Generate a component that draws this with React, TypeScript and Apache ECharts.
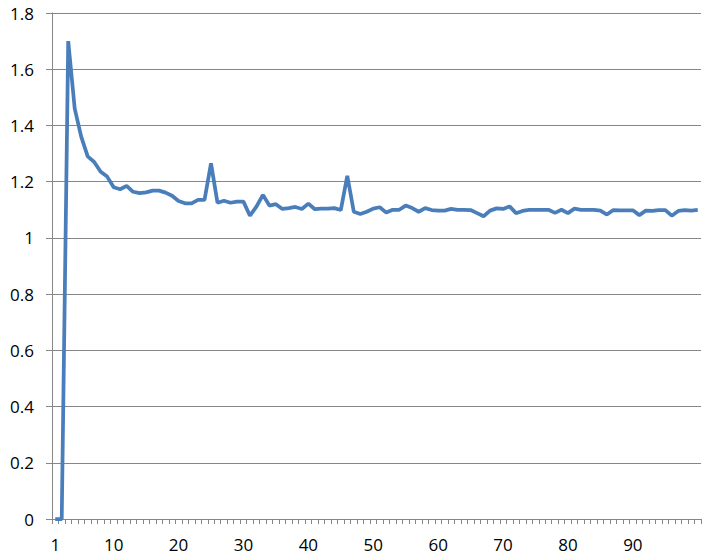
import { useEffect, useRef } from 'react'
import * as echarts from 'echarts'

// x categories 1..100
const categories = [
  '1', '2', '3', '4', '5', '6', '7', '8', '9', '10',
  '11', '12', '13', '14', '15', '16', '17', '18', '19', '20',
  '21', '22', '23', '24', '25', '26', '27', '28', '29', '30',
  '31', '32', '33', '34', '35', '36', '37', '38', '39', '40',
  '41', '42', '43', '44', '45', '46', '47', '48', '49', '50',
  '51', '52', '53', '54', '55', '56', '57', '58', '59', '60',
  '61', '62', '63', '64', '65', '66', '67', '68', '69', '70',
  '71', '72', '73', '74', '75', '76', '77', '78', '79', '80',
  '81', '82', '83', '84', '85', '86', '87', '88', '89', '90',
  '91', '92', '93', '94', '95', '96', '97', '98', '99', '100',
]

// values
const values = [
  0, 0, 1.70, 1.46, 1.36, 1.29, 1.27, 1.235, 1.218, 1.18,
  1.173, 1.185, 1.164, 1.159, 1.162, 1.168, 1.168, 1.161, 1.15, 1.131,
  1.123, 1.123, 1.135, 1.135, 1.265, 1.125, 1.132, 1.125, 1.129, 1.129,
  1.079, 1.111, 1.153, 1.115, 1.12, 1.103, 1.106, 1.11, 1.103, 1.122,
  1.102, 1.104, 1.104, 1.106, 1.099, 1.221, 1.093, 1.085, 1.093, 1.104,
  1.109, 1.09, 1.10, 1.10, 1.115, 1.106, 1.093, 1.106, 1.099, 1.097,
  1.097, 1.103, 1.10, 1.10, 1.099, 1.088, 1.077, 1.097, 1.105, 1.103,
  1.112, 1.088, 1.096, 1.10, 1.10, 1.10, 1.10, 1.089, 1.10, 1.088,
  1.104, 1.10, 1.10, 1.10, 1.097, 1.083, 1.099, 1.098, 1.098, 1.098,
  1.081, 1.097, 1.096, 1.099, 1.099, 1.079, 1.096, 1.099, 1.097, 1.10,
]

const shownLabels = ['1', '10', '20', '30', '40', '50', '60', '70', '80', '90']

export default function App() {
  const chartRef = useRef<HTMLDivElement>(null)

  useEffect(() => {
    if (!chartRef.current) return
    const chart = echarts.init(chartRef.current, undefined, { renderer: 'svg' })

    const font = 'Open Sans, Noto Sans, sans-serif'

    chart.setOption({
      animation: false,
      backgroundColor: '#ffffff',
      grid: { left: 52, right: 19, top: 13, bottom: 41, containLabel: false },
      xAxis: {
        type: 'category',
        data: categories,
        boundaryGap: true,
        axisLine: { show: true, lineStyle: { color: '#868686', width: 1 } },
        axisTick: { show: true, interval: 0, length: 5, lineStyle: { color: '#868686' } },
        axisLabel: {
          interval: 0,
          formatter: (v: string) => (shownLabels.includes(v) ? v : ''),
          color: '#000',
          fontSize: 17,
          fontFamily: font,
          margin: 17,
        },
        splitLine: { show: false },
      },
      yAxis: {
        type: 'value',
        min: 0,
        max: 1.8,
        interval: 0.2,
        axisLine: { show: true, lineStyle: { color: '#868686', width: 1 } },
        axisTick: { show: true, length: 6, lineStyle: { color: '#868686' } },
        axisLabel: {
          formatter: (v: number) => String(Math.round(v * 10) / 10),
          color: '#000',
          fontSize: 17,
          fontFamily: font,
          margin: 18,
        },
        splitLine: { show: true, lineStyle: { color: '#868686', width: 1 } },
      },
      series: [
        {
          type: 'line',
          data: values,
          symbol: 'none',
          lineStyle: { color: '#4a7ebb', width: 3.75 },
          itemStyle: { color: '#4a7ebb' },
        },
      ],
    })

    return () => {
      chart.dispose()
    }
  }, [])

  return (
    <div
      ref={chartRef}
      style={{ position: 'fixed', left: 0, top: 0, width: 720, height: 560 }}
    />
  )
}
